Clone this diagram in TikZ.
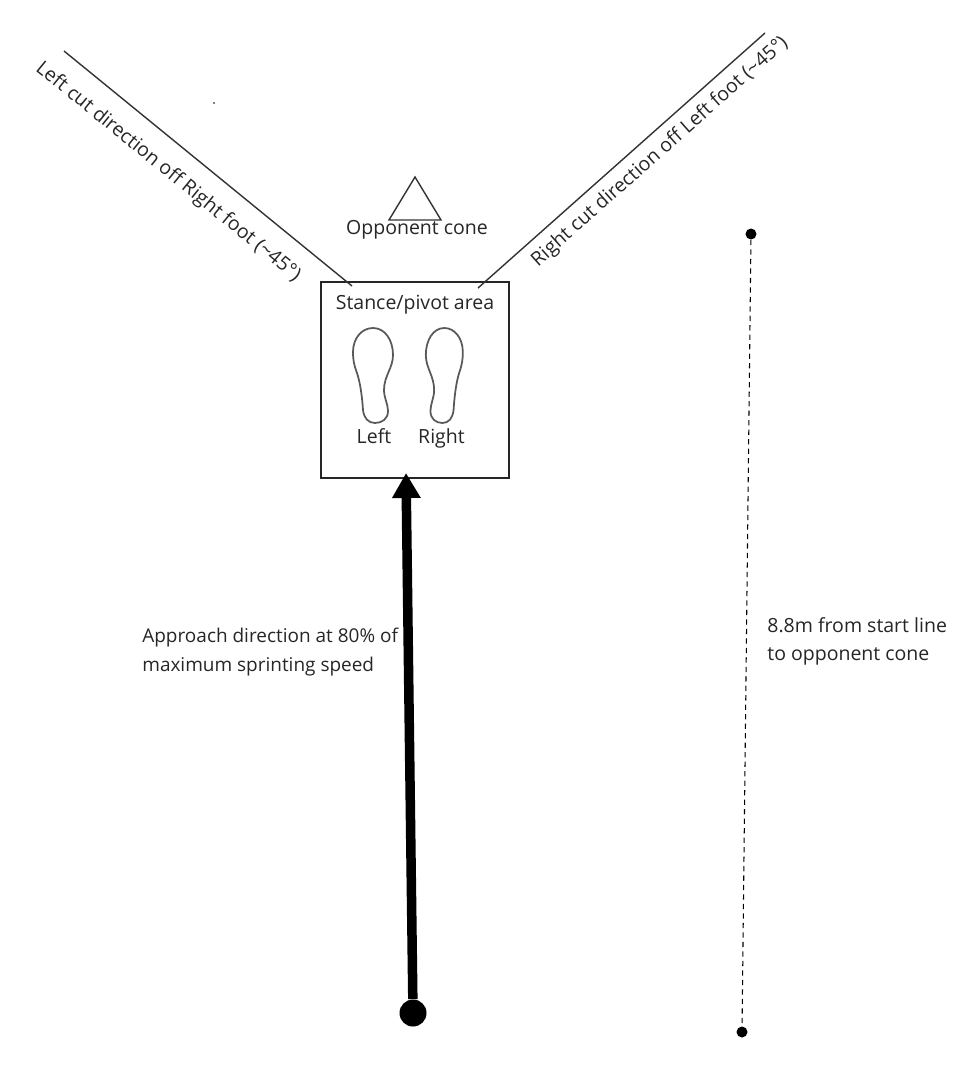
\documentclass[tikz,border=0pt]{standalone}
\usepackage{fontspec}
\setmainfont{Open Sans}
\usetikzlibrary{arrows.meta}
\tikzset{
  lbl/.style={inner sep=0pt, font=\fontsize{11.1}{16.3}\selectfont, text=black!85},
  cutline/.style={draw=black!80, line width=0.8pt},
  foot/.style={draw=black!65, line width=1pt},
  dot/.style={circle, fill=black, inner sep=0pt, minimum size=#1}
}
\newcommand{\footshape}{%
  (373,328) .. controls (385,328) and (393,340) .. (393,355)
  .. controls (393,368) and (384,376) .. (384,390)
  .. controls (384,398) and (388,404) .. (388,411)
  .. controls (388,419) and (382,423) .. (375,423)
  .. controls (368,423) and (364,418) .. (363,410)
  .. controls (362,395) and (360,382) .. (357,373)
  .. controls (354,365) and (353,360) .. (353,352)
  .. controls (353,338) and (362,328) .. (373,328) -- cycle}
\begin{document}
\begin{tikzpicture}[x=0.02cm, y=-0.02cm]
   \useasboundingbox (0,0) rectangle (976,1067);
   \node (box) [draw=black!85, line width=0.8pt, minimum width=3.76cm, minimum height=3.92cm, inner sep=0pt] at (415,380) {};
   \node (stance) [lbl] at (415,305) {Stance/pivot area};
   \node (left) [lbl, anchor=base] at (374,443) {Left};
   \node (right) [lbl, anchor=base] at (441.5,443) {Right};
   \node (cone) [lbl] at (417,230) {Opponent cone};
   \node (approach) [lbl, font=\fontsize{10.8}{16.3}\selectfont, align=left, anchor=north west] at (142,628) {Approach direction at 80\% of\\maximum sprinting speed};
   \node (dist) [lbl, align=left, anchor=north west] at (767,617) {8.8m from start line\\to opponent cone};
   \node (leftcut) [lbl, rotate=-39.2] at (168,172) {Left cut direction off Right foot (\textasciitilde45°)};
   \node (rightcut) [lbl, rotate=41.6] at (660,152) {Right cut direction off Left foot (\textasciitilde45°)};
   % cut lines
   \coordinate (L0) at (64,51);
   \coordinate (L1) at (352,286);
   \coordinate (R0) at (765,33);
   \coordinate (R1) at (478,288);
   \draw[cutline] (L0) -- (L1);
   \draw[cutline] (R0) -- (R1);
   % cone
   \draw[cutline] (415,177) -- (441,220) -- (389,220) -- cycle;
   % feet
   \draw[foot] \footshape;
   \begin{scope}[xshift=15.79cm, xscale=-0.925]
      \draw[foot] \footshape;
   \end{scope}
   % approach arrow
   \node (start) [dot=0.54cm] at (413,1013) {};
   \coordinate (tip) at (406,473);
   \draw[line width=0.19cm, -{Triangle[length=0.5cm, width=0.54cm]}] (start) -- (tip);
   % distance
   \node (far) [dot=0.22cm] at (751,234) {};
   \node (near) [dot=0.22cm] at (742,1032) {};
   \draw[line width=0.6pt, dash pattern=on 3pt off 2.4pt] (far) -- (near);
   \node (speck) [dot=1pt] at (214,103) {};
\end{tikzpicture}
\end{document}
